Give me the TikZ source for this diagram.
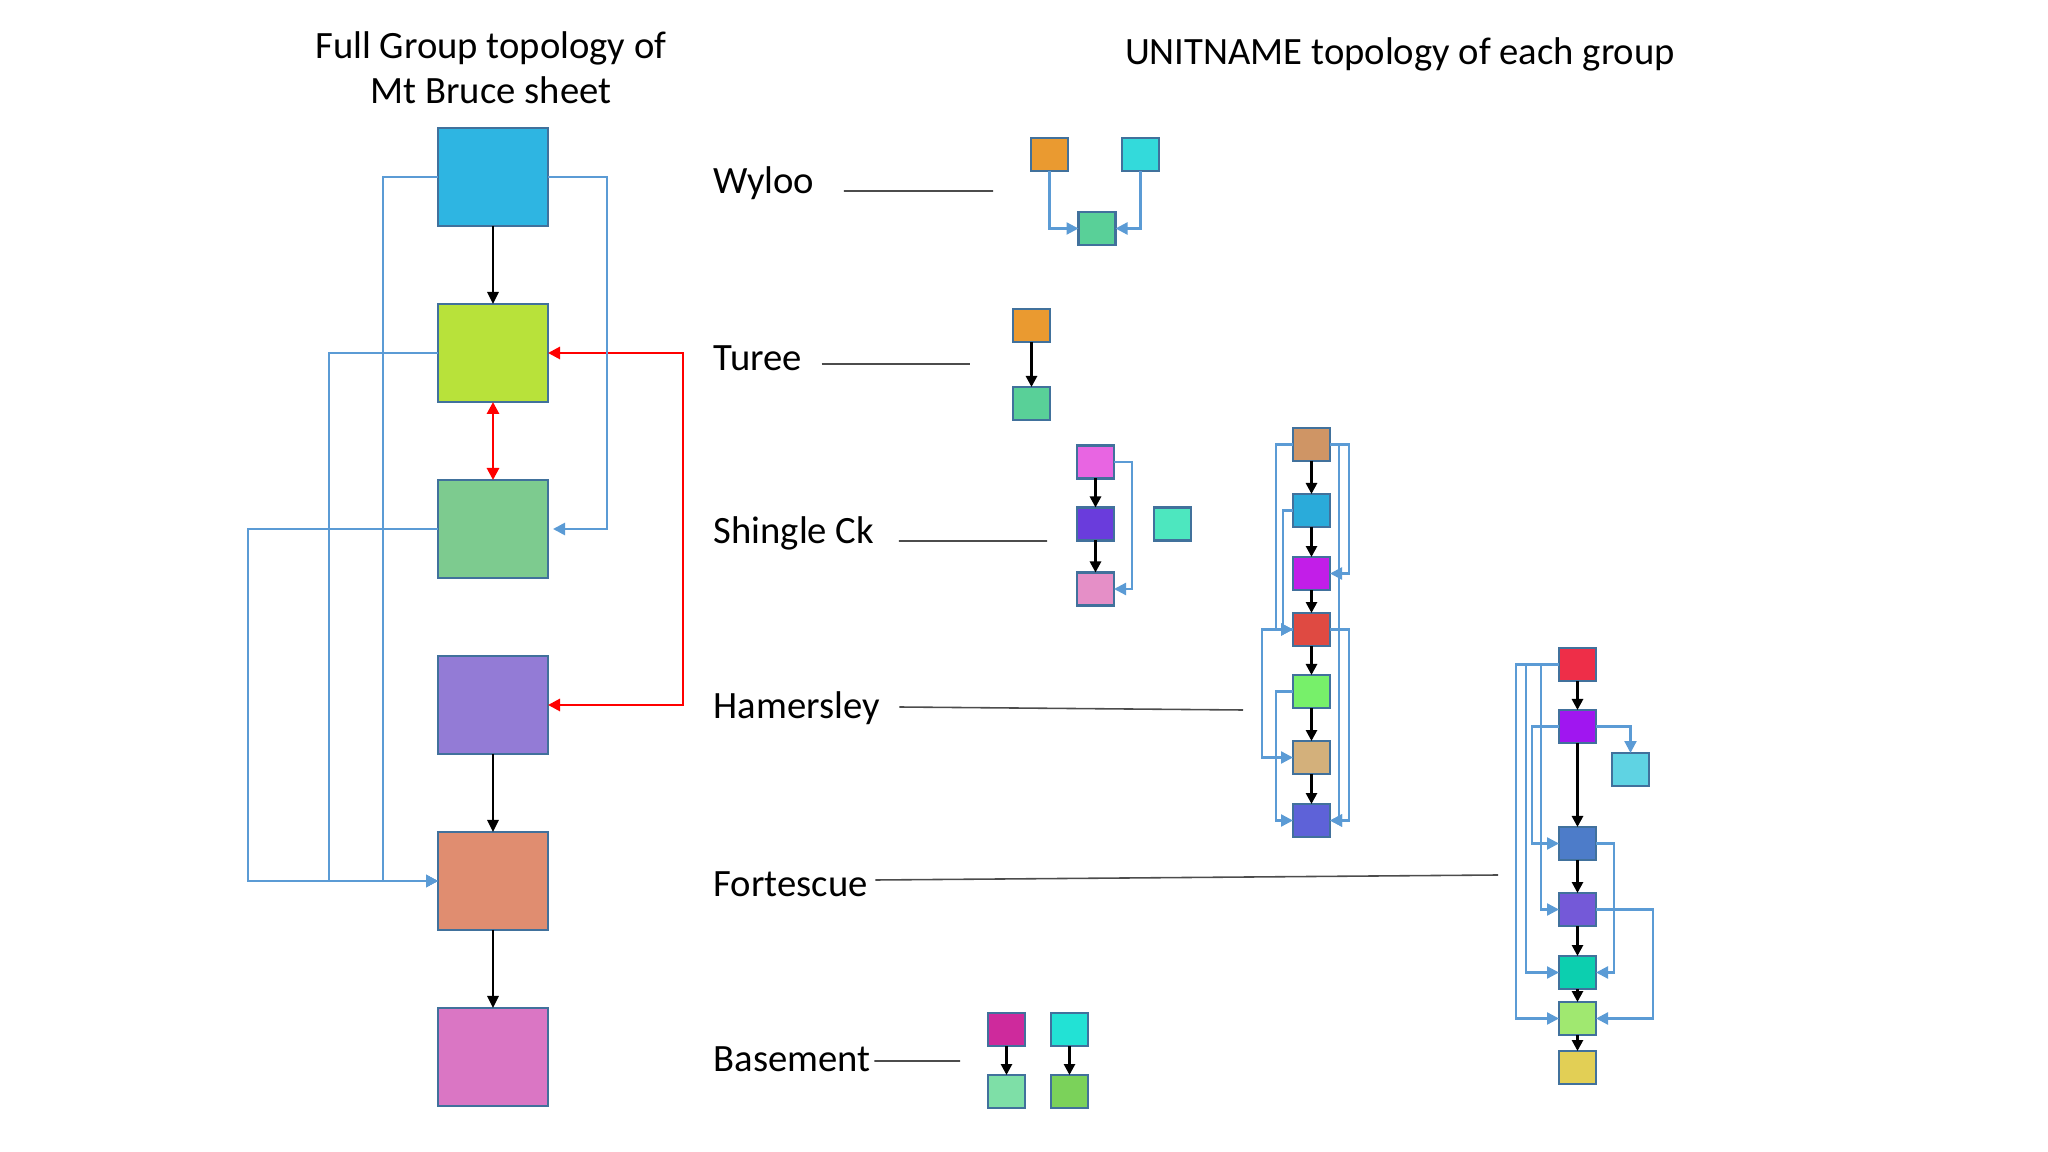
\documentclass[tikz,border=0pt]{standalone}
\usepackage{fontspec}
\setmainfont{Carlito}
\usetikzlibrary{positioning, arrows.meta, calc}

\definecolor{edgeblue}{HTML}{5B9BD5}
\definecolor{boxline}{HTML}{41719C}
% group colours
\definecolor{cWyl}{HTML}{2EB5E2}
\definecolor{cTur}{HTML}{B8E23A}
\definecolor{cShi}{HTML}{7DCB8F}
\definecolor{cHam}{HTML}{937BD6}
\definecolor{cFor}{HTML}{E08D70}
\definecolor{cBas}{HTML}{DA76C4}

\begin{document}
\begin{tikzpicture}[
  bigbox/.style={draw=boxline, line width=0.7pt, minimum width=1.1cm, minimum height=0.98cm, inner sep=0pt, outer sep=0pt},
  unit/.style={draw=boxline, line width=0.7pt, minimum width=0.37cm, minimum height=0.33cm, inner sep=0pt, outer sep=0pt},
  flow/.style={-{Triangle[length=1.2mm, width=1.1mm]}, line width=0.75pt},
  sflow/.style={-{Triangle[length=1.1mm, width=1.1mm]}, line width=0.75pt},
  link/.style={-{Triangle[length=1.2mm, width=1.2mm]}, draw=edgeblue, line width=0.75pt},
  slink/.style={-{Triangle[length=1.2mm, width=1.2mm]}, draw=edgeblue, line width=0.65pt},
  clash/.style={{Triangle[length=1.2mm, width=1.2mm]}-{Triangle[length=1.2mm, width=1.2mm]}, draw=red, line width=0.8pt},
  grouplabel/.style={anchor=west, font=\fontsize{11}{13}\selectfont, inner sep=0pt},
  leader/.style={draw=black!70, line width=0.45pt}
]
\useasboundingbox (0,0) rectangle (20.48,-11.52);

% titles
\node[align=center, font=\fontsize{11}{12.8}\selectfont] (tleft) at (4.91,-0.68) {Full Group topology of\\Mt Bruce sheet};
\node[font=\fontsize{11}{12.8}\selectfont] (tright) at (14.00,-0.54) {UNITNAME topology of each group};

% full group column
\node[bigbox, fill=cWyl] (wyl) at (4.93,-1.77) {};
\node[bigbox, fill=cTur, below=0.78cm of wyl] (tur) {};
\node[bigbox, fill=cShi, below=0.78cm of tur] (shi) {};
\node[bigbox, fill=cHam, below=0.78cm of shi] (ham) {};
\node[bigbox, fill=cFor, below=0.78cm of ham] (fort) {};
\node[bigbox, fill=cBas, below=0.78cm of fort] (bas) {};

\draw[flow] (wyl) -- (tur);
\draw[flow] (ham) -- (fort);
\draw[flow] (fort) -- (bas);
\draw[clash] (tur) -- (shi);
\draw[clash] (tur.east) -- ++(1.35,0) |- (ham.east);
\draw[link] (wyl.west) -- ++(-0.55,0) |- (fort.west);
\draw[link] (tur.west) -- ++(-1.09,0) |- (fort.west);
\draw[link] (shi.west) -- ++(-1.90,0) |- (fort.west);
\draw[link, shorten >=0.5mm] (wyl.east) -- ++(0.59,0) |- (shi.east);

% group labels
\node[grouplabel] (lwyl) at (7.13,-1.83) {Wyloo};
\node[grouplabel] (ltur) at (7.13,-3.58) {Turee};
\node[grouplabel] (lshi) at (7.13,-5.33) {Shingle Ck};
\node[grouplabel] (lham) at (7.13,-7.08) {Hamersley};
\node[grouplabel] (lfor) at (7.13,-8.84) {Fortescue};
\node[grouplabel] (lbas) at (7.13,-10.59) {Basement};

\coordinate (ewyl) at (9.93,-1.91);
\coordinate (etur) at (9.70,-3.64);
\coordinate (eshi) at (10.47,-5.41);
\coordinate (eham) at (12.43,-7.10);
\coordinate (efor) at (14.98,-8.75);
\coordinate (ebas) at (9.60,-10.61);
\draw[leader] (lwyl.east) ++(0.29,-0.08) -- (ewyl);
\draw[leader] (ltur.east) ++(0.19,-0.06) -- (etur);
\draw[leader] (lshi.east) ++(0.24,-0.08) -- (eshi);
\draw[leader] (lham.east) ++(0.19,0.01) -- (eham);
\draw[leader] (lfor.east) ++(0.07,0.04) -- (efor);
\draw[leader] (lbas.east) ++(0.03,-0.02) -- (ebas);

% Wyloo units
\node[unit, fill={rgb,255:red,234;green,154;blue,48}] (wy1) at (10.495,-1.545) {};
\node[unit, fill={rgb,255:red,51;green,218;blue,219}] (wy2) at (11.405,-1.545) {};
\node[unit, fill={rgb,255:red,89;green,208;blue,152}] (wy3) at (10.97,-2.285) {};
\draw[slink] (wy1.south) |- (wy3.west);
\draw[slink] (wy2.south) |- (wy3.east);

% Turee units
\node[unit, fill={rgb,255:red,234;green,154;blue,48}] (tu1) at (10.315,-3.255) {};
\node[unit, fill={rgb,255:red,89;green,208;blue,152}, below=0.45cm of tu1] (tu2) {};
\draw[sflow] (tu1) -- (tu2);

% Shingle Ck units
\node[unit, fill={rgb,255:red,232;green,101;blue,226}] (sh1) at (10.955,-4.62) {};
\node[unit, fill={rgb,255:red,106;green,60;blue,220}, below=0.29cm of sh1] (sh2) {};
\node[unit, fill={rgb,255:red,229;green,143;blue,199}, below=0.32cm of sh2] (sh3) {};
\node[unit, fill={rgb,255:red,77;green,231;blue,191}, right=0.40cm of sh2] (sh4) {};
\draw[sflow] (sh1) -- (sh2);
\draw[sflow] (sh2) -- (sh3);
\draw[slink] (sh1.east) -- ++(0.18,0) |- (sh3.east);

% Hamersley units
\node[unit, fill={rgb,255:red,207;green,149;blue,101}] (h1) at (13.115,-4.445) {};
\node[unit, fill={rgb,255:red,42;green,171;blue,218}, below=0.33cm of h1] (h2) {};
\node[unit, fill={rgb,255:red,194;green,30;blue,232}, below=0.30cm of h2] (h3) {};
\node[unit, fill={rgb,255:red,223;green,74;blue,66}, below=0.23cm of h3] (h4) {};
\node[unit, fill={rgb,255:red,119;green,240;blue,106}, below=0.29cm of h4] (h5) {};
\node[unit, fill={rgb,255:red,211;green,176;blue,123}, below=0.33cm of h5] (h6) {};
\node[unit, fill={rgb,255:red,94;green,98;blue,216}, below=0.30cm of h6] (h7) {};
\foreach \a/\b in {h1/h2, h2/h3, h3/h4, h4/h5, h5/h6, h6/h7}
  \draw[sflow] (\a) -- (\b);
\draw[slink] (h1.west) -- ++(-0.17,0) |- (h4.west);
\draw[slink] (h2.west) -- ++(-0.10,0) |- (h4.west);
\draw[slink] (h4.west) -- ++(-0.31,0) |- (h6.west);
\draw[slink] (h5.west) -- ++(-0.17,0) |- (h7.west);
\draw[slink] (h1.east) -- ++(0.09,0) |- (h7.east);
\draw[slink] (h1.east) -- ++(0.19,0) |- (h3.east);
\draw[slink] (h4.east) -- ++(0.19,0) |- (h7.east);

% Fortescue units
\node[unit, fill={rgb,255:red,238;green,46;blue,72}] (f1) at (15.775,-6.645) {};
\node[unit, fill={rgb,255:red,160;green,22;blue,240}, below=0.29cm of f1] (f2) {};
\node[unit, fill={rgb,255:red,95;green,211;blue,227}] (f3) at (16.305,-7.695) {};
\node[unit, fill={rgb,255:red,77;green,124;blue,201}, below=0.84cm of f2] (f4) {};
\node[unit, fill={rgb,255:red,116;green,89;blue,216}, below=0.33cm of f4] (f5) {};
\node[unit, fill={rgb,255:red,12;green,207;blue,175}, below=0.30cm of f5] (f6) {};
\node[unit, fill={rgb,255:red,160;green,232;blue,112}, below=0.13cm of f6] (f7) {};
\node[unit, fill={rgb,255:red,226;green,207;blue,85}, below=0.16cm of f7] (f8) {};
\foreach \a/\b in {f1/f2, f2/f4, f4/f5, f5/f6, f6/f7, f7/f8}
  \draw[sflow] (\a) -- (\b);
\draw[slink] (f1.west) -- ++(-0.43,0) |- (f7.west);
\draw[slink] (f1.west) -- ++(-0.33,0) |- (f6.west);
\draw[slink] (f1.west) -- ++(-0.18,0) |- (f5.west);
\draw[slink] (f2.west) -- ++(-0.27,0) |- (f4.west);
\draw[slink] (f2.east) -| (f3.north);
\draw[slink] (f4.east) -- ++(0.18,0) |- (f6.east);
\draw[slink] (f5.east) -- ++(0.57,0) |- (f7.east);

% Basement units
\node[unit, fill={rgb,255:red,206;green,42;blue,156}] (b1) at (10.065,-10.295) {};
\node[unit, fill={rgb,255:red,34;green,226;blue,213}, right=0.26cm of b1] (b2) {};
\node[unit, fill={rgb,255:red,126;green,223;blue,167}, below=0.29cm of b1] (b3) {};
\node[unit, fill={rgb,255:red,123;green,210;blue,90}, below=0.29cm of b2] (b4) {};
\draw[sflow] (b1) -- (b3);
\draw[sflow] (b2) -- (b4);
\end{tikzpicture}
\end{document}
